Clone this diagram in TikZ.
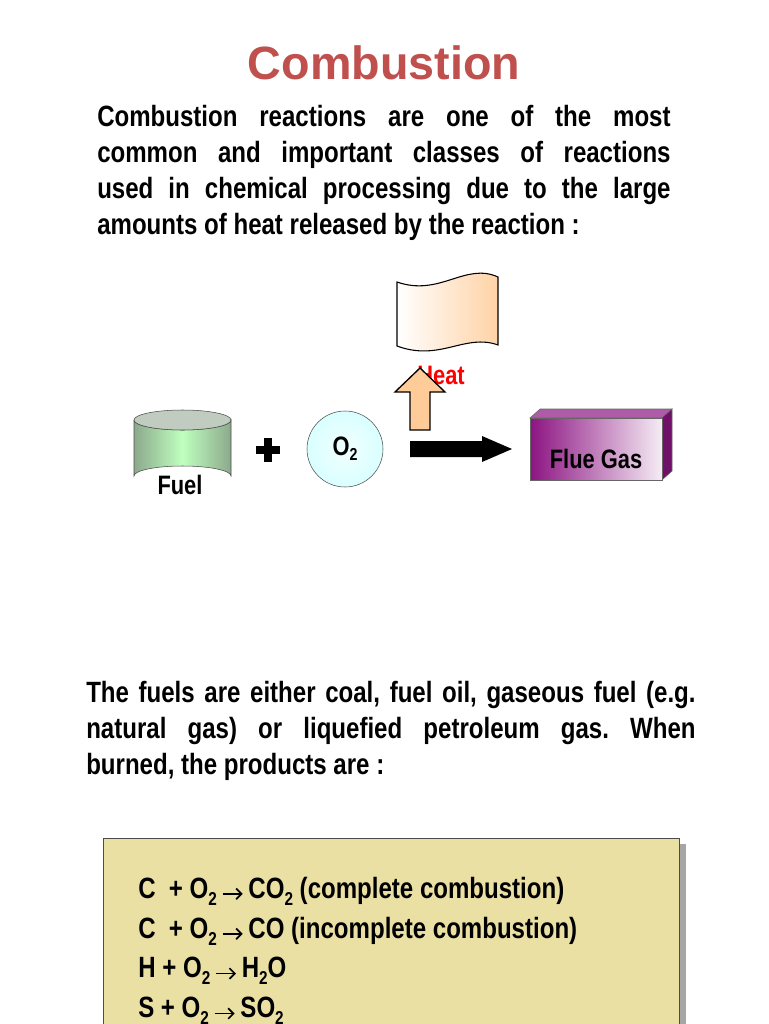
\documentclass[tikz,border=0pt]{standalone}
\usepackage{fontspec}
\setmainfont{Liberation Sans}
\newfontfamily\narrow[FakeStretch=0.82]{Liberation Sans}
\usetikzlibrary{arrows.meta,shapes.geometric,shapes.symbols,shapes.arrows,shadows}
\definecolor{fluep}{RGB}{140,20,130}
\frenchspacing
\newcommand{\sub}[1]{\raisebox{-0.45ex}{\fontsize{14}{14}\selectfont#1}}
\newsavebox{\arrbox}
\savebox{\arrbox}{\tikz[baseline=-0.6ex]\draw[line width=1.3pt,-{Straight Barb[length=4pt]}] (0,0)--(15pt,0);}
\newcommand{\arr}{\,\usebox{\arrbox}\,}
\begin{document}
\begin{tikzpicture}[x=0.75pt,y=-0.75pt,
  para/.style={font=\narrow\bfseries\fontsize{22}{27}\selectfont,align=left,anchor=north west,inner sep=0pt},
  eq/.style={font=\narrow\bfseries\fontsize{22}{30}\selectfont,anchor=west,inner sep=0pt},
  lbl/.style={font=\narrow\bfseries\fontsize{20}{22}\selectfont}]
\useasboundingbox (0,0) rectangle (768,1024);
\fill[white] (0,0) rectangle (768,1024);
\node (title) at (384,63) {\color[HTML]{C0504D}\bfseries\fontsize{35}{40}\selectfont Combustion};
\node[para] (p1) at (97,105) {\makebox[430pt][s]{Combustion reactions are one of the most}\\
\makebox[430pt][s]{common and important classes of reactions}\\
\makebox[430pt][s]{used in chemical processing due to the large}\\
amounts of heat released by the reaction :};
% cylinder
\shade[left color=green!25!black!45,right color=green!25!black!45,middle color=green!25!white, draw=black!70]
 (134,420) -- (134,476) arc[start angle=180,end angle=360,x radius=48.5,y radius=10] -- (231,420) arc[start angle=0,end angle=180,x radius=48.5,y radius=10];
\fill[green!20!black!25,draw=black!70] (182.5,420) ellipse[x radius=48.5,y radius=10];
\node[lbl] (fuel) at (180,485) {Fuel};
% plus
\fill (264,438) rectangle (272,462);
\fill (256,446) rectangle (280,454);
\node[circle,minimum size=57pt,draw=black!70,shade,inner color=cyan!5,outer color=cyan!15] (o2) at (345,449) {};
\node[lbl] at (o2) {O\raisebox{-0.35ex}{\fontsize{13}{13}\selectfont2}};
% main arrow
\coordinate (a1) at (410,449);
\coordinate (a2) at (512,449);
\fill (a1) ++(0,-8) -- (482,441) -- (482,436) -- (a2) -- (482,462) -- (482,457) -- (410,457) -- cycle;
% heat
\node[text=red,lbl] (heat) at (441,375) {Heat};
\fill[orange!40!white,draw=black,line width=1pt] (410,430) -- (430,430) -- (430,392) -- (445,392) -- (420,368) -- (395,392) -- (410,392) -- cycle;
% banner
\shade[left color=white,right color=orange!35!white,draw=black,line width=0.8pt]
 (397,282) .. controls (440,297) and (465,262) .. (498,277) -- (498,345) .. controls (465,333) and (440,362) .. (397,346) -- cycle;
% flue gas
\fill[fluep!70!white,draw=black!60] (530,418) -- (540,409) -- (672,409) -- (662,418) -- cycle;
\fill[fluep!80!black,draw=black!60] (662,418) -- (672,409) -- (672,471) -- (662,480) -- cycle;
\shade[left color=fluep,right color=fluep!8!white,draw=black!60] (530,418) rectangle (662,480);
\node[lbl] (flue) at (596,459) {Flue Gas};
\node[para] (p2) at (86,681) {\makebox[457pt][s]{The fuels are either coal, fuel oil, gaseous fuel (e.g.}\\
\makebox[457pt][s]{natural gas) or liquefied petroleum gas. When}\\
burned, the products are :};
% box
\fill[black!35] (109,844) rectangle (686,1030);
\fill[orange!30!yellow!30!white!92!black,draw=black!70] (103,838) rectangle (679,1030);
\node[eq] (e1) at (138,891) {C\ \ + O\sub2\arr CO\sub2 (complete combustion)};
\node[eq] (e2) at (138,931) {C\ \ + O\sub2\arr CO (incomplete combustion)};
\node[eq] (e3) at (138,971) {H + O\sub2\arr H\sub2O};
\node[eq] (e4) at (138,1011) {S + O\sub2\arr SO\sub2};
\end{tikzpicture}
\end{document}
